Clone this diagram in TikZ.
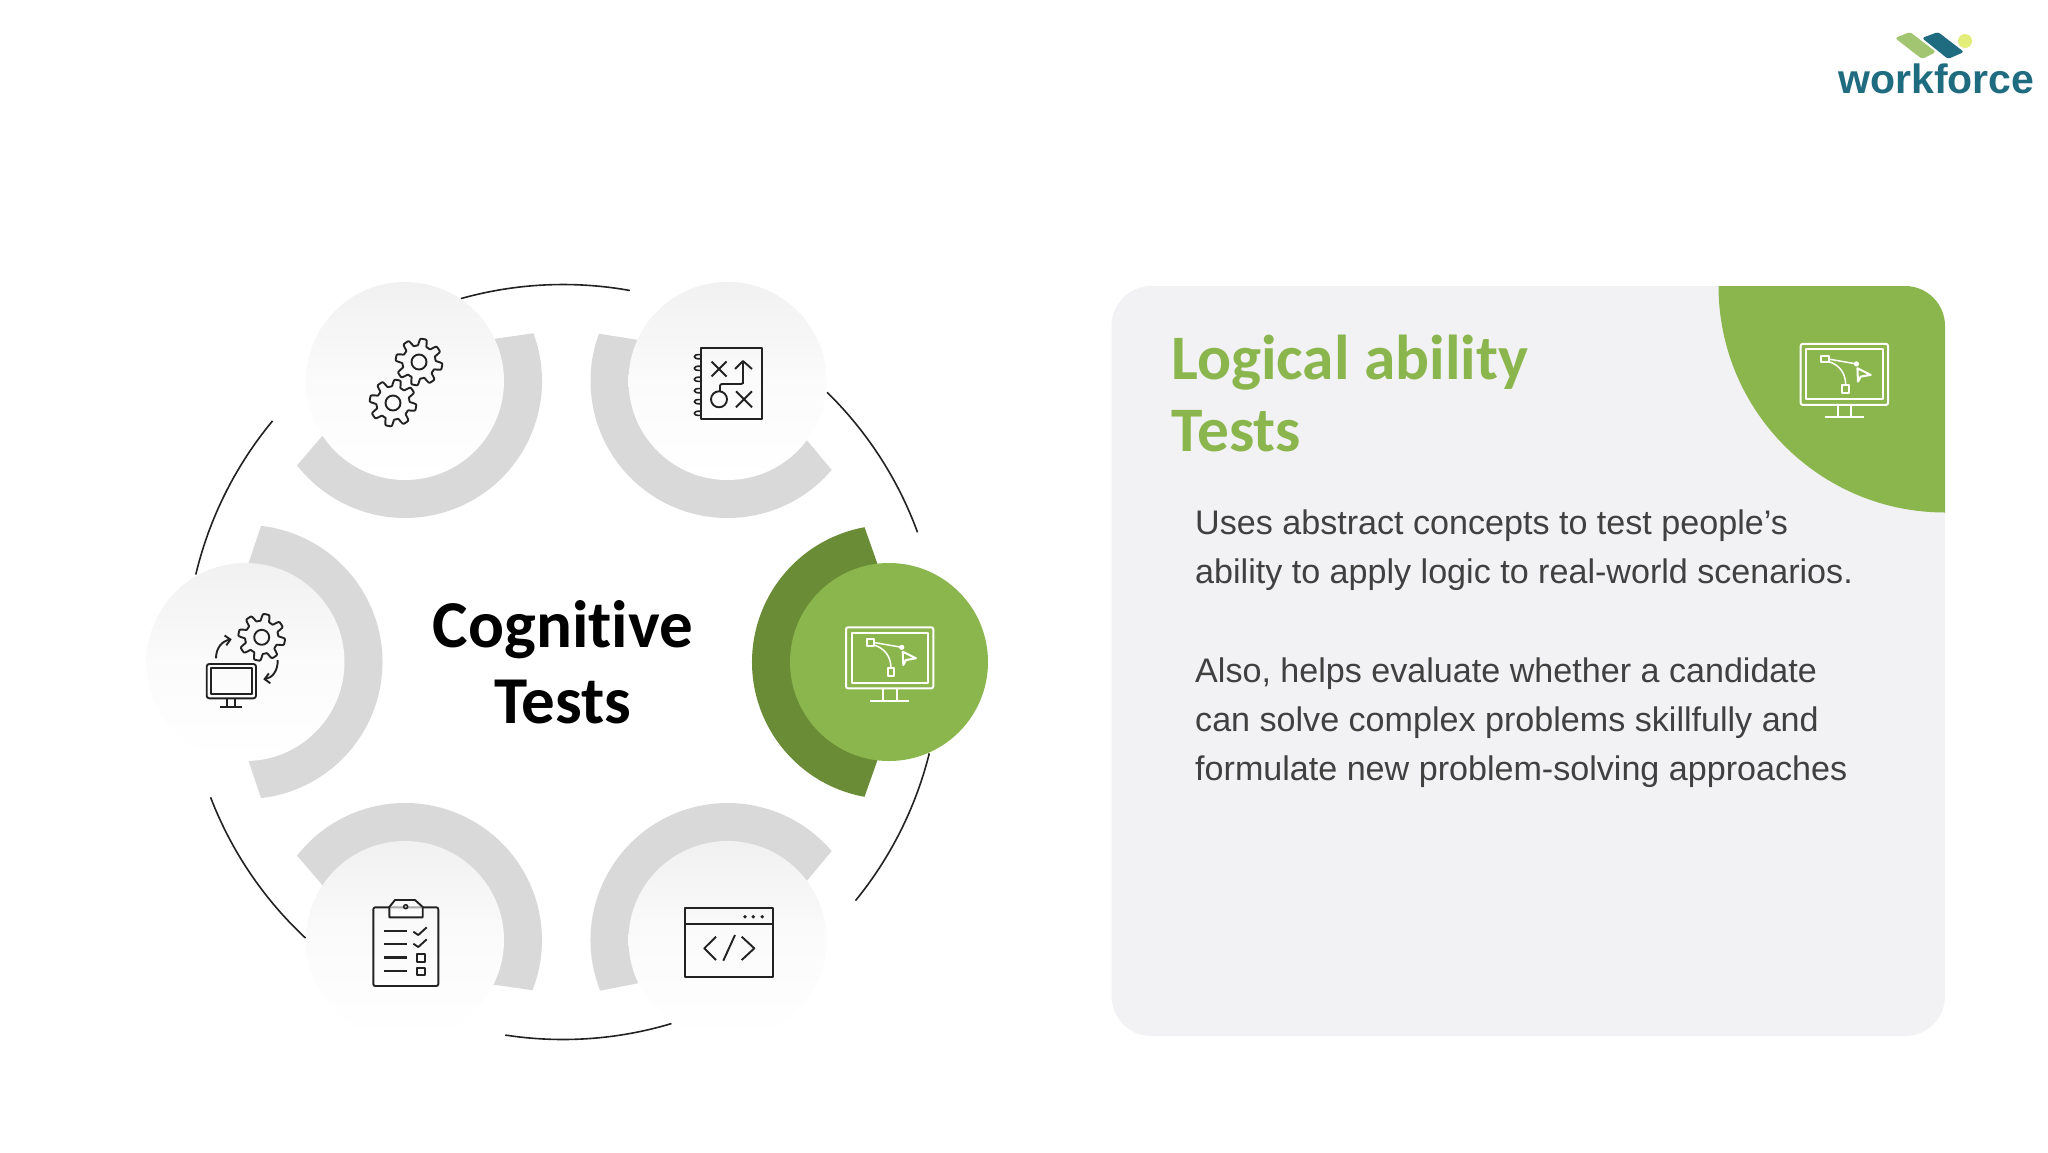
\documentclass[tikz,border=0pt]{standalone}
\usepackage{fontspec}
\setmainfont{Liberation Sans}
\newfontfamily\carl[Ligatures=CommonOff]{Carlito}
\usetikzlibrary{arrows.meta}
\definecolor{ringgray}{HTML}{D9D9D9}
\definecolor{leaf}{HTML}{8BB64E}
\definecolor{leafdark}{HTML}{6B8C36}
\definecolor{cardbg}{HTML}{F2F2F4}
\definecolor{bodytxt}{HTML}{404040}
\definecolor{teal}{HTML}{1F6B80}
\definecolor{disc}{HTML}{F1F1F1}
\definecolor{ink}{HTML}{222222}
\tikzset{
  disk/.style={circle,inner sep=0pt,minimum size=198pt,top color=disc,bottom color=white,middle color=disc!30!white},
  diskactive/.style={circle,inner sep=0pt,minimum size=198pt,fill=leaf},
  orbit/.style={draw=ink,line width=1.6pt},
  icon/.style={draw=ink,line width=1.9pt,line join=round},
  iconw/.style={draw=white,line width=2pt,line join=round},
  bodyline/.style={anchor=base west,inner sep=0pt,text=bodytxt,font=\fontsize{34.1}{40}\selectfont},
  titleline/.style={anchor=base west,inner sep=0pt,text=leaf,font=\carl\bfseries\fontsize{63.4}{74}\selectfont},
  centerline/.style={anchor=base,inner sep=0pt,text=black,font=\carl\bfseries\fontsize{67}{76}\selectfont},
}
% annular sector: centre, outer angles, inner angles (flipped frame), colour
\newcommand{\ringarc}[7]{\fill[#7] ([shift={(#1,#2)}]#3:137) arc[start angle=#3,end angle=#4,radius=137] -- ([shift={(#1,#2)}]#6:98) arc[start angle=#6,end angle=#5,radius=98] -- cycle;}
\newcommand{\orbitarc}[2]{\draw[orbit] ([shift={(563,662)}]#1:377.5) arc[start angle=#1,end angle=#2,radius=377.5];}
\newcommand{\gearicon}[2]{%
  \draw[icon] plot[domain=0:357.5,samples=144] ({#1+(20+3.4*max(-1,min(1,2.2*sin(8*\x))))*cos(\x)},{#2+(20+3.4*max(-1,min(1,2.2*sin(8*\x))))*sin(\x)}) -- cycle;
  \draw[icon] (#1,#2) circle[radius=7.5];}
\newcommand{\bezicon}[3]{% monitor with vector curve; origin at its position on the active disk
  \begin{scope}[shift={(#1,#2)},#3]
    \draw[rounded corners=2pt] (846,627.3) rectangle (933.3,688.3);
    \draw (851.7,632.7) rectangle (928.3,682.7);
    \draw (883.3,688.3) -- (883.3,700.7) (896.7,688.3) -- (896.7,700.7);
    \draw (870,700.7) -- (909.3,700.7);
    \draw (866.7,639.3) rectangle (874,645.5);
    \draw (887.7,668.3) rectangle (894,676);
    \draw[line width=1.5pt] (874,642.5) -- (901.7,647.3);
    \fill[white] (901.7,647.3) circle[radius=2.6];
    \draw[line width=1.5pt] (874,645) .. controls (884,648) and (891,656) .. (891,668.3);
    \draw (902.7,651.7) -- (916,658.3) -- (906,660) -- (903.3,665) -- cycle;
  \end{scope}}
\begin{document}
\begin{tikzpicture}[x=1pt,y=-1pt]
\useasboundingbox (0,0) rectangle (2048,1152);
\fill[white] (0,0) rectangle (2048,1152);

% orbit arcs
\orbitarc{-105.7}{-79.8}
\orbitarc{-45.6}{-20.1}
\orbitarc{14}{39.2}
\orbitarc{73.3}{98.8}
\orbitarc{133}{159}
\orbitarc{193.4}{219.7}

% rings
\ringarc{405}{381}{-20.4}{142}{-25.4}{146.6}{ringgray}
\ringarc{727.5}{381}{40.5}{200.2}{36.6}{204.7}{ringgray}
\ringarc{245.5}{662}{-83.5}{83.5}{-88.4}{88.4}{ringgray}
\ringarc{889}{662}{100.3}{259.7}{96.6}{263.4}{leafdark}
\ringarc{405}{940}{-142}{21.5}{-146.6}{27}{ringgray}
\ringarc{727.5}{940}{158.3}{319.5}{154}{323.4}{ringgray}

% disks
\node[disk] (gears) at (405,381) {};
\node[disk] (plan) at (727.5,381) {};
\node[disk] (cycle) at (245.5,662) {};
\node[diskactive] (logic) at (889,662) {};
\node[disk] (check) at (405,940) {};
\node[disk] (code) at (727.5,940) {};

% centre title
\node[centerline] (ct1) at (563,647) {Cognitive};
\node[centerline] (ct2) at (563,723.7) {Tests};

% gears icon
\gearicon{419}{362}
\gearicon{393}{403}

% plan icon
\draw[icon] (700.7,348.3) rectangle (762.3,419);
\foreach \yy in {356.7,368.3,379.3,390.7,401.7,413.3}
  \draw[icon,line width=1.6pt] (700.7,\yy-2) .. controls (692,\yy-3) and (692,\yy+3) .. (700.7,\yy+2);
\draw[icon] (711.5,361.5) -- (726.5,376.5) (711.5,376.5) -- (726.5,361.5);
\draw[icon] (736,391.3) -- (752,407.3) (736,407.3) -- (752,391.3);
\draw[icon] (719,399.3) circle[radius=8];
\draw[icon,rounded corners=2pt] (720,391) -- (720,384) -- (743,384) -- (743,362);
\draw[icon,line width=2.6pt] (743,384) -- (743,362);
\draw[icon] (735,369) -- (743,361) -- (752,369);

% cycle icon
\gearicon{261.7}{637.3}
\draw[icon,rounded corners=2.5pt] (206.7,664) rectangle (256,698.3);
\draw[icon] (211,668.3) rectangle (251.7,694.3);
\draw[icon] (227.3,698.3) -- (227.3,707.3) (235,698.3) -- (235,707.3);
\draw[icon] (220,707.3) -- (241.7,707.3);
\draw[icon,-{Straight Barb[length=5pt,width=10pt]}] (216,658.3) .. controls (216,648) and (222,641) .. (231.7,639.3);
\draw[icon,-{Straight Barb[length=5pt,width=10pt]}] (277.7,660) .. controls (278,671) and (272,678) .. (263.3,679.3);

% active icon
\bezicon{0}{0}{iconw}

% clipboard icon
\draw[icon,rounded corners=2pt] (373.3,907.3) rectangle (438.3,986);
\draw[icon,fill=white,fill opacity=.6] (389.3,917.3) -- (389.3,907) -- (395,900) -- (415,900) -- (422.7,907) -- (422.7,917.3) -- cycle;
\draw[icon,line width=1.5pt] (405.7,906.7) circle[radius=2];
\draw[icon] (384.3,930.7) -- (406.7,930.7) (384.3,944) -- (406.7,944) (384.3,971) -- (406.7,971);
\draw[icon,line width=3pt] (384.3,957.7) -- (406.7,957.7);
\draw[icon] (413.3,931.7) -- (418.3,935) -- (426.7,927.3);
\draw[icon] (413.3,943.7) -- (418.3,947) -- (426.7,939.3);
\draw[icon,line width=2.4pt] (416.7,954) rectangle (425,961.7);
\draw[icon] (416.7,967.7) rectangle (425,975);

% code icon
\draw[icon] (685,908.3) rectangle (773.3,976.7);
\draw[icon] (685,924.3) -- (773.3,924.3);
\fill[ink] (745,916.7) circle[radius=1.9] (753.3,916.7) circle[radius=1.9] (762.3,916.7) circle[radius=1.9];
\draw[icon] (716,936.7) -- (704.3,948.3) -- (716,960);
\draw[icon] (735,935) -- (723.3,960.7);
\draw[icon] (741.7,936.7) -- (754.3,948.3) -- (741.7,960);

% card
\fill[cardbg] (1111.5,286) [rounded corners=40pt] rectangle (1945,1036);
\begin{scope}
  \clip[rounded corners=40pt] (1111.5,286) rectangle (1945,1036);
  \fill[leaf] (1945,286) circle[radius=226.5];
\end{scope}
\bezicon{954.7}{-283.4}{iconw}

\node[titleline] (t1) at (1171,379.3) {Logical ability};
\node[titleline] (t2) at (1171,451.3) {Tests};
\node[bodyline] (b1) at (1195,534.8) {Uses abstract concepts to test people’s};
\node[bodyline] (b2) at (1195,583.8) {ability to apply logic to real-world scenarios.};
\node[bodyline] (b3) at (1195,682.5) {Also, helps evaluate whether a candidate};
\node[bodyline] (b4) at (1195,731.5) {can solve complex problems skillfully and};
\node[bodyline] (b5) at (1195,780.5) {formulate new problem-solving approaches};

% logo
\fill[leaf!80!white,rounded corners=2.5pt] (1895,38) -- (1910,32) -- (1936,52) -- (1922,59) -- cycle;
\fill[teal,rounded corners=2.5pt] (1922,38) -- (1938,32) -- (1964,52) -- (1948,59) -- cycle;
\fill[leaf!40!yellow!60!white] (1965,41) circle[radius=7];
\node[anchor=base,inner sep=0pt,text=teal,font=\bfseries\fontsize{41}{44}\selectfont] (logo) at (1936.5,93) {workforce};
\end{tikzpicture}
\end{document}
